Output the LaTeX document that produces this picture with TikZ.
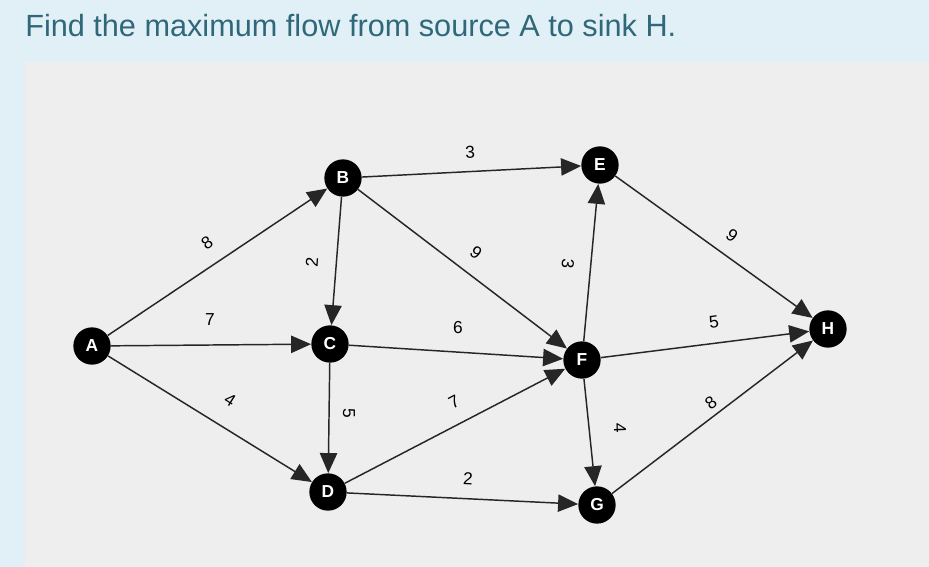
\documentclass[tikz,border=0pt]{standalone}
\usepackage{fontspec}
\setmainfont{Liberation Sans}
\usetikzlibrary{arrows.meta}
\definecolor{bgblue}{HTML}{E1F0F7}
\definecolor{panel}{HTML}{EEEEEE}
\definecolor{titlec}{HTML}{2F6878}
\begin{document}
\begin{tikzpicture}[x=0.75pt,y=-0.75pt,
  vtx/.style={circle,fill=black,text=white,font=\bfseries\fontsize{13}{15}\selectfont,inner sep=0pt,minimum size=28pt},
  edge/.style={draw=black!85,line width=1.1pt,-{Triangle[length=15pt,width=13pt]}},
  lbl/.style={font=\fontsize{13}{15}\selectfont,inner sep=0pt}]
\fill[bgblue] (0,0) rectangle (929,567);
\fill[panel] (25,62) rectangle (929,567);
\useasboundingbox (0,0) rectangle (929,567);
\node[anchor=west,text=titlec,font=\fontsize{23}{27}\selectfont,inner sep=0pt] (title) at (25,26) {Find the maximum flow from source A to sink H.};
\node[vtx] (A) at (92,346) {A};
\node[vtx] (B) at (343,178) {B};
\node[vtx] (C) at (330,344) {C};
\node[vtx] (D) at (328,492) {D};
\node[vtx] (E) at (600,165) {E};
\node[vtx] (F) at (582,360) {F};
\node[vtx] (G) at (597,505) {G};
\node[vtx] (H) at (828,329) {H};
\foreach \a/\b in {A/B,A/C,A/D,B/C,B/E,B/F,C/F,C/D,D/F,D/G,F/E,F/G,E/H,F/H,G/H}
  \draw[edge] (\a) -- (\b);
\node[lbl,rotate=34] (l1) at (207,243) {8};
\node[lbl] (l2) at (210,320) {7};
\node[lbl,rotate=-32] (l3) at (230,400) {4};
\node[lbl,rotate=86] (l4) at (312,262) {2};
\node[lbl,rotate=3] (l5) at (470,152) {3};
\node[lbl,rotate=-37] (l6) at (476,253) {9};
\node[lbl] (l7) at (458,328) {6};
\node[lbl,rotate=-90] (l8) at (349,413) {5};
\node[lbl,rotate=28] (l9) at (454,402) {7};
\node[lbl,rotate=-3] (l10) at (468,479) {2};
\node[lbl,rotate=-95] (l11) at (568,264) {3};
\node[lbl,rotate=-88] (l12) at (620,428) {4};
\node[lbl,rotate=-36] (l13) at (732,236) {9};
\node[lbl,rotate=7] (l14) at (714,322) {5};
\node[lbl,rotate=37] (l15) at (711,403) {8};
\end{tikzpicture}
\end{document}
